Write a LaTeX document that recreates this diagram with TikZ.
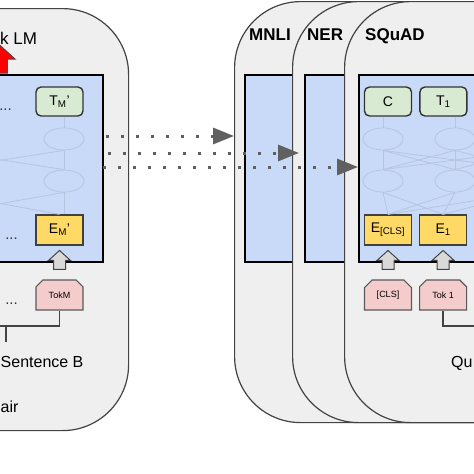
\documentclass[tikz,border=0pt]{standalone}
\usepackage{fontspec}
\setmainfont{Liberation Sans}
\usetikzlibrary{arrows.meta, positioning, shapes.geometric, shapes.misc, calc}

\definecolor{PanelGray}{HTML}{EFEFEF}
\definecolor{PanelLine}{HTML}{434343}
\definecolor{BertBlue}{HTML}{C9DAF8}
\definecolor{OutGreen}{HTML}{D9EAD3}
\definecolor{EmbYellow}{HTML}{FFD966}
\definecolor{TokPink}{HTML}{F4CCCC}
\definecolor{ArrGray}{HTML}{D9D9D9}
\definecolor{DotGray}{HTML}{606060}
\definecolor{NetLine}{HTML}{B5C5E0}

\tikzset{uparrow/.pic={\draw[pic actions] (-6,0) -- (-6,-9) -- (-11,-9) -- (0,-19) -- (11,-9) -- (6,-9) -- (6,0) -- cycle;}}

\begin{document}
\begin{tikzpicture}[x=1pt, y=-1pt]
		\tikzstyle{Panel} = [rectangle, draw=PanelLine, fill=PanelGray, line width=1.2pt, rounded corners=66pt, anchor=north west, inner sep=0pt]
		\tikzstyle{BlueBox} = [rectangle, draw=black, fill=BertBlue, line width=2pt, anchor=north west, minimum height=187pt, inner sep=0pt]
		\tikzstyle{OutBox} = [rectangle, rounded corners=5pt, draw=black!80, fill=OutGreen, line width=1.4pt, minimum width=47pt, minimum height=29pt, inner sep=0pt, font=\fontsize{14}{16}\selectfont]
		\tikzstyle{EmbBox} = [rectangle, draw=black!75, fill=EmbYellow, line width=1.2pt, minimum width=47pt, minimum height=30pt, inner sep=0pt, font=\fontsize{14}{16}\selectfont]
		\tikzstyle{TokBox} = [chamfered rectangle, chamfered rectangle corners={north west, north east}, chamfered rectangle xsep=5pt, draw=black!65, fill=TokPink, line width=1.1pt, minimum width=47pt, minimum height=30pt, inner sep=0pt, font=\fontsize{9}{10}\selectfont]
		\tikzstyle{Trm} = [ellipse, draw=NetLine, fill=BertBlue, line width=0.8pt, minimum width=40pt, minimum height=22pt, inner sep=0pt]
		\tikzstyle{net} = [draw=NetLine, line width=0.8pt]
		\tikzstyle{bracket} = [draw=PanelLine, line width=1.4pt]
		\tikzstyle{BigText} = [inner sep=0pt, font=\fontsize{16}{19}\selectfont]
		\tikzstyle{TaskText} = [inner sep=0pt, anchor=base west, font=\fontsize{17}{20}\selectfont\bfseries]
		\tikzstyle{Dots} = [inner sep=0pt, anchor=base east, font=\fontsize{15}{18}\selectfont, text=black!80]
		\tikzstyle{GrayArrow} = [draw=PanelLine, fill=ArrGray, line width=1pt, line join=miter]
		\tikzstyle{RedArrow} = [draw=black!70, fill=red, line width=1pt, line join=miter]
		\tikzstyle{dotarrow} = [DotGray, line width=3pt, dash pattern=on 3pt off 12pt, -{Triangle[length=21pt, width=16pt]}]

		\useasboundingbox (0,0) rectangle (474,474);
		\fill[white] (0,0) rectangle (474,474);
		\clip (0,0) rectangle (474,474);

		% pre-training
		\node (pre) [Panel, minimum width=328pt, minimum height=422pt] at (-200,8) {};
		\node (mlm) [BigText, anchor=base west, font=\fontsize{17}{20}\selectfont] at (0,44) {k LM};
		\pic[RedArrow, scale=1.55] at (-2,73) {uparrow};
		\node (prebox) [BlueBox, minimum width=152pt] at (-50,74) {};

		\node (la) [Trm] at (64,181) {};
		\node (lb) [Trm] at (64,139) {};
		\node (la2) [Trm] at (-60,181) {};
		\node (lb2) [Trm] at (-60,139) {};
		\coordinate (e0) at (-64,215);

		\node (tm) [OutBox] at (59.5,101.5) {T\textsubscript{M}'};
		\node (em) [EmbBox] at (59.5,230) {E\textsubscript{M}'};
		\node (tokm) [TokBox] at (59.5,295) {TokM};

		\draw[net] (lb.north) -- (lb.north |- tm.south);
		\draw[net] (la.north) -- (lb.south);
		\draw[net] (la.north) -- (lb2.south);
		\draw[net] (la2.north) -- (lb.south);
		\draw[net] (la.south) -- (la.south |- em.north);
		\draw[net] (em.north) -- (la2.south);
		\draw[net] (e0) -- (la.south);

		\node (dots1) [Dots] at (12,110) {...};
		\node (dots2) [Dots] at (18,239) {...};
		\node (dots3) [Dots] at (18,304) {...};

		\pic[GrayArrow] at ($(tokm.north)+(0,-10)$) {uparrow};

		\coordinate (bl) at (-10,326);
		\coordinate (bt) at (6,342);
		\draw[bracket] (tokm.south) |- (bl);
		\draw[bracket] (bt) -- (bt |- bl);
		\node (sentb) [BigText, anchor=base west] at (0.5,367) {Sentence B};
		\node (pair) [BigText, anchor=base west] at (0.5,412) {air};

		% fine-tuning
		\node (mnli) [Panel, minimum width=400pt, minimum height=421pt] at (234,1) {};
		\node (mnlibox) [BlueBox, minimum width=70pt] at (244,74) {};
		\node (mnlitext) [TaskText] at (249,40) {MNLI};

		\node (ner) [Panel, minimum width=400pt, minimum height=421pt] at (292,1) {};
		\node (nerbox) [BlueBox, minimum width=70pt] at (304,74) {};
		\node (nertext) [TaskText] at (307,40) {NER};

		\node (squad) [Panel, minimum width=400pt, minimum height=421pt] at (344,1) {};
		\node (squadbox) [BlueBox, minimum width=200pt] at (358,74) {};
		\node (squadtext) [TaskText] at (365,40) {SQuAD};

		\foreach \i/\x in {0/383, 1/455, 2/527} {
			\node (sa\i) [Trm] at (\x,181) {};
			\node (sb\i) [Trm] at (\x,139) {};
		}

		\node (c) [OutBox] at (388,101.5) {C};
		\node (t1) [OutBox, right=7pt of c] {T\textsubscript{1}};
		\node (ecls) [EmbBox] at (388,230) {E\textsubscript{[CLS]}};
		\node (e1) [EmbBox, right=7pt of ecls] {E\textsubscript{1}};
		\node (cls) [TokBox] at (388,295) {[CLS]};
		\node (tok1) [TokBox, right=7pt of cls] {Tok 1};

		\foreach \i in {0,1,2}
			\foreach \j in {0,1,2}
				\draw[net] (sa\i.north) -- (sb\j.south);
		\foreach \e in {ecls,e1}
			\foreach \j in {0,1,2}
				\draw[net] (\e.north) -- (sa\j.south);
		\draw[net] (sb0.north) -- (sb0.north |- c.south);
		\draw[net] (sb1.north) -- (sb1.north |- t1.south);

		\pic[GrayArrow] at ($(cls.north)+(0,-10)$) {uparrow};
		\pic[GrayArrow] at ($(tok1.north)+(0,-10)$) {uparrow};

		\coordinate (qend) at (490,326);
		\draw[bracket] (tok1.south) |- (qend);
		\node (quest) [BigText, anchor=base west] at (451,367) {Qu};

		% transfer
		\coordinate (s1) at (106,136);
		\coordinate (s2) at (108,153);
		\coordinate (s3) at (103,167);
		\draw[dotarrow] (s1) -- (s1 -| mnli.west);
		\draw[dotarrow, shorten >=-7pt] (s2) -- (s2 -| ner.west);
		\draw[dotarrow] (s3) -- (s3 -| squadbox.west);
\end{tikzpicture}
\end{document}
